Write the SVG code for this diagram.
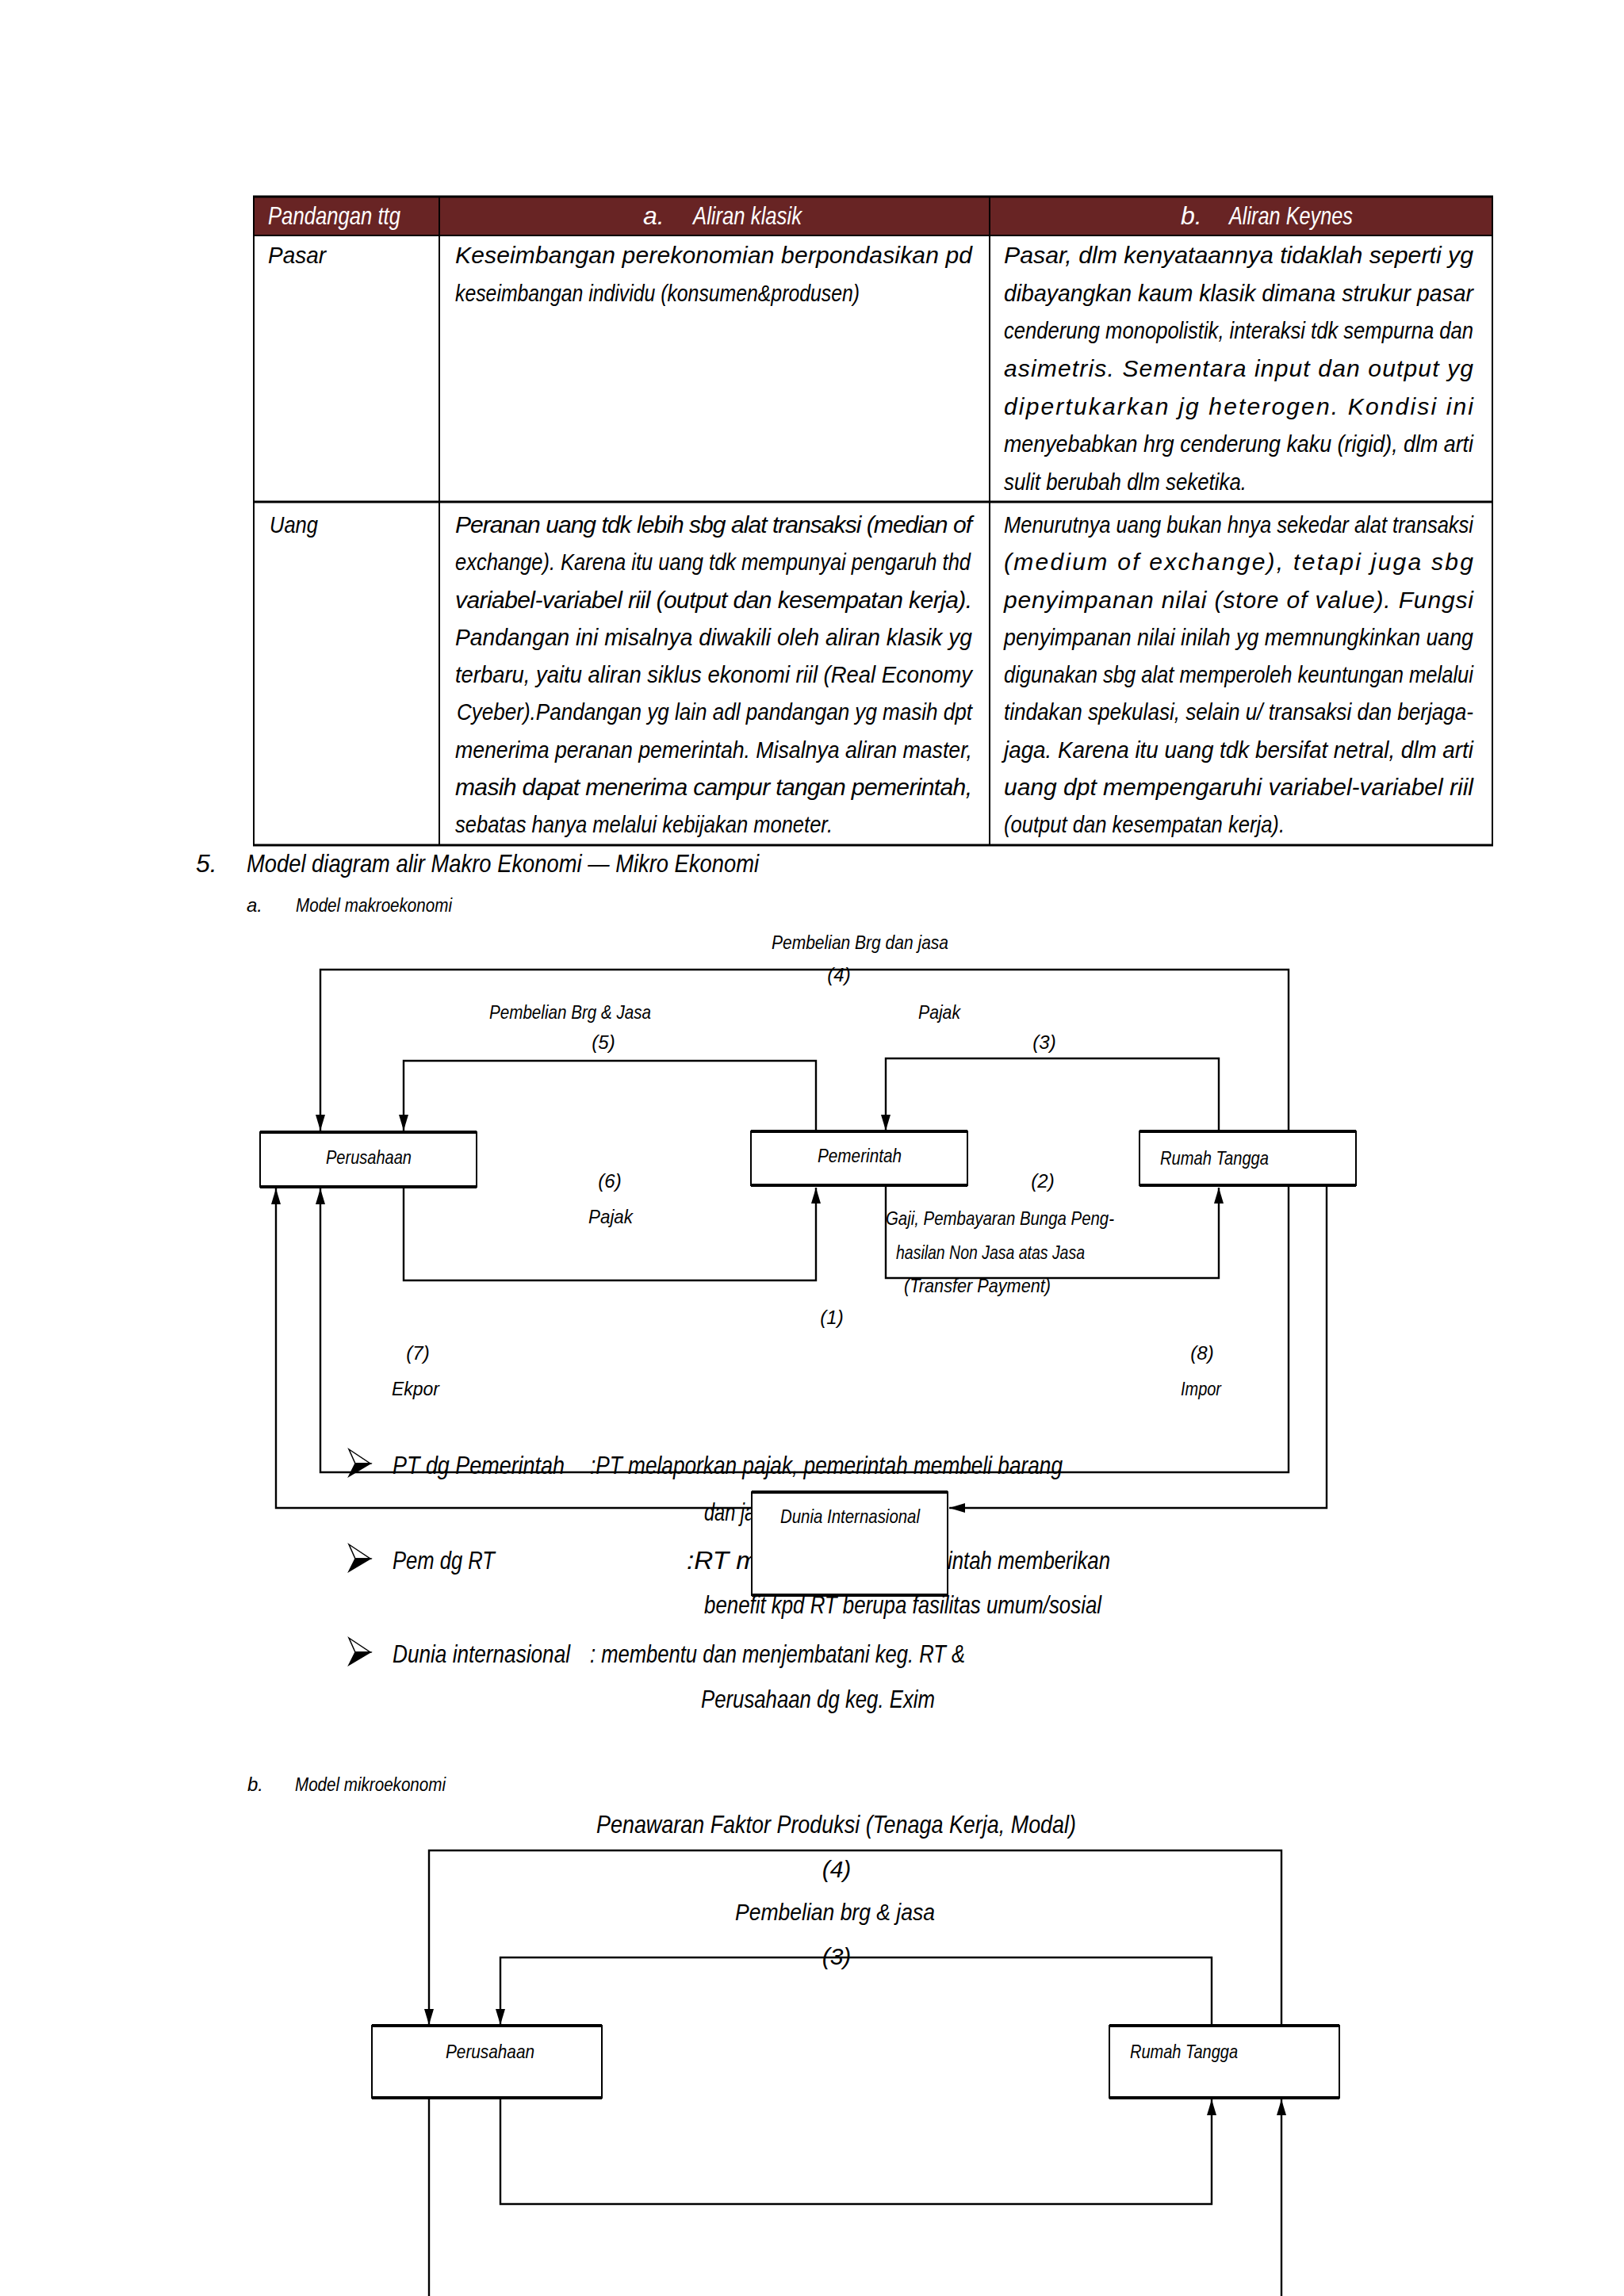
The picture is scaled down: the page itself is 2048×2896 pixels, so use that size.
<svg xmlns="http://www.w3.org/2000/svg" width="2048" height="2896" viewBox="0 0 2048 2896">
<style>
.t{font-family:"Liberation Sans",sans-serif;font-style:italic;fill:#000}
.tb{font-size:32px}
.tt{font-size:30px}
.th{font-size:32px;fill:#fff}
.d{font-size:24px}
.dm{font-size:30px}
.ln{stroke:#000;stroke-width:2.4;fill:none}
.bd{stroke:#000;fill:none}
.box{fill:#fff;stroke:#000;stroke-width:2}
.edge{stroke:#000;stroke-width:4;fill:none}
</style>
<defs>
<marker id="arr" markerUnits="userSpaceOnUse" markerWidth="22" markerHeight="14" refX="20" refY="6" orient="auto">
<path d="M0,0 L20,6 L0,12 z" fill="#000"/>
</marker>
</defs>
<rect width="2048" height="2896" fill="#fff"/>

<g id="table">
<rect x="320" y="249" width="1562" height="48" fill="#682424"/>
<path class="bd" stroke-width="3" d="M319,248 H1883 M319,633 H1883 M319,1066 H1883"/>
<path class="bd" stroke-width="2" d="M320,248 V1067 M554,248 V1067 M1248,248 V1067 M1882,248 V1067 M319,297 H1883"/>
<text class="t th" x="338" y="283" textLength="167" lengthAdjust="spacingAndGlyphs">Pandangan ttg</text>
<text class="t th" x="811" y="283">a.</text>
<text class="t th" x="874" y="283" textLength="137" lengthAdjust="spacingAndGlyphs">Aliran klasik</text>
<text class="t th" x="1489" y="283">b.</text>
<text class="t th" x="1550" y="283" textLength="156" lengthAdjust="spacingAndGlyphs">Aliran Keynes</text>

<text class="t tt" x="338" y="332" textLength="73" lengthAdjust="spacingAndGlyphs">Pasar</text>
<text class="t tt" x="574" y="332" textLength="652" lengthAdjust="spacing">Keseimbangan perekonomian berpondasikan pd</text>
<text class="t tt" x="574" y="380" textLength="510" lengthAdjust="spacingAndGlyphs">keseimbangan individu (konsumen&amp;produsen)</text>

<text class="t tt" x="1266" y="332" textLength="592" lengthAdjust="spacingAndGlyphs">Pasar, dlm kenyataannya tidaklah seperti yg</text>
<text class="t tt" x="1266" y="380" textLength="592" lengthAdjust="spacingAndGlyphs">dibayangkan kaum klasik dimana strukur pasar</text>
<text class="t tt" x="1266" y="427" textLength="592" lengthAdjust="spacingAndGlyphs">cenderung monopolistik, interaksi tdk sempurna dan</text>
<text class="t tt" x="1266" y="475" textLength="592" lengthAdjust="spacing">asimetris. Sementara input dan output yg</text>
<text class="t tt" x="1266" y="523" textLength="592" lengthAdjust="spacing">dipertukarkan jg heterogen. Kondisi ini</text>
<text class="t tt" x="1266" y="570" textLength="592" lengthAdjust="spacingAndGlyphs">menyebabkan hrg cenderung kaku (rigid), dlm arti</text>
<text class="t tt" x="1266" y="618" textLength="306" lengthAdjust="spacingAndGlyphs">sulit berubah dlm seketika.</text>

<text class="t tt" x="340" y="672" textLength="61" lengthAdjust="spacingAndGlyphs">Uang</text>
<text class="t tt" x="574" y="672" textLength="652" lengthAdjust="spacing">Peranan uang tdk lebih sbg alat transaksi (median of</text>
<text class="t tt" x="574" y="719" textLength="650" lengthAdjust="spacingAndGlyphs">exchange). Karena itu uang tdk mempunyai pengaruh thd</text>
<text class="t tt" x="574" y="767" textLength="652" lengthAdjust="spacing">variabel-variabel riil (output dan kesempatan kerja).</text>
<text class="t tt" x="574" y="814" textLength="652" lengthAdjust="spacingAndGlyphs">Pandangan ini misalnya diwakili oleh aliran klasik yg</text>
<text class="t tt" x="574" y="861" textLength="652" lengthAdjust="spacingAndGlyphs">terbaru, yaitu aliran siklus ekonomi riil (Real Economy</text>
<text class="t tt" x="576" y="908" textLength="650" lengthAdjust="spacingAndGlyphs">Cyeber).Pandangan yg lain adl pandangan yg masih dpt</text>
<text class="t tt" x="574" y="956" textLength="652" lengthAdjust="spacingAndGlyphs">menerima peranan pemerintah. Misalnya aliran master,</text>
<text class="t tt" x="574" y="1003" textLength="652" lengthAdjust="spacing">masih dapat menerima campur tangan pemerintah,</text>
<text class="t tt" x="574" y="1050" textLength="476" lengthAdjust="spacingAndGlyphs">sebatas hanya melalui kebijakan moneter.</text>

<text class="t tt" x="1266" y="672" textLength="592" lengthAdjust="spacingAndGlyphs">Menurutnya uang bukan hnya sekedar alat transaksi</text>
<text class="t tt" x="1266" y="719" textLength="592" lengthAdjust="spacing">(medium of exchange), tetapi juga sbg</text>
<text class="t tt" x="1266" y="767" textLength="592" lengthAdjust="spacing">penyimpanan nilai (store of value). Fungsi</text>
<text class="t tt" x="1266" y="814" textLength="592" lengthAdjust="spacingAndGlyphs">penyimpanan nilai inilah yg memnungkinkan uang</text>
<text class="t tt" x="1266" y="861" textLength="592" lengthAdjust="spacingAndGlyphs">digunakan sbg alat memperoleh keuntungan melalui</text>
<text class="t tt" x="1266" y="908" textLength="592" lengthAdjust="spacingAndGlyphs">tindakan spekulasi, selain u/ transaksi dan berjaga-</text>
<text class="t tt" x="1266" y="956" textLength="592" lengthAdjust="spacingAndGlyphs">jaga. Karena itu uang tdk bersifat netral, dlm arti</text>
<text class="t tt" x="1266" y="1003" textLength="592" lengthAdjust="spacing">uang dpt mempengaruhi variabel-variabel riil</text>
<text class="t tt" x="1266" y="1050" textLength="354" lengthAdjust="spacingAndGlyphs">(output dan kesempatan kerja).</text>
</g>

<g id="headings">
<text class="t tb" x="247" y="1100">5.</text>
<text class="t tb" x="311" y="1100" textLength="646" lengthAdjust="spacingAndGlyphs">Model diagram  alir Makro Ekonomi — Mikro Ekonomi</text>
<text class="t d" x="311" y="1150">a.</text>
<text class="t d" x="373" y="1150" textLength="197" lengthAdjust="spacingAndGlyphs">Model makroekonomi</text>
<text class="t d" x="312" y="2259">b.</text>
<text class="t d" x="372" y="2259" textLength="190" lengthAdjust="spacingAndGlyphs">Model mikroekonomi</text>
</g>

<g id="connectors">
<path class="ln" d="M1625,1428 V1223 H404 V1426" marker-end="url(#arr)"/>
<path class="ln" d="M1029,1428 V1338 H509 V1426" marker-end="url(#arr)"/>
<path class="ln" d="M1537,1428 V1335 H1117 V1426" marker-end="url(#arr)"/>
<path class="ln" d="M509,1497 V1615 H1029 V1498" marker-end="url(#arr)"/>
<path class="ln" d="M1117,1496 V1612 H1537 V1498" marker-end="url(#arr)"/>
<path class="ln" d="M1625,1496 V1857 H404 V1499" marker-end="url(#arr)"/>
<path class="ln" d="M1673,1496 V1902 H1197" marker-end="url(#arr)"/>
<path class="ln" d="M948,1902 H348 V1499" marker-end="url(#arr)"/>

<path class="ln" d="M1616,2555 V2334 H541 V2554" marker-end="url(#arr)"/>
<path class="ln" d="M1528,2555 V2469 H631 V2554" marker-end="url(#arr)"/>
<path class="ln" d="M631,2646 V2780 H1528 V2648" marker-end="url(#arr)"/>
<path class="ln" d="M541,2646 V2896"/>
<path class="ln" d="M1616,2896 V2648" marker-end="url(#arr)"/>
</g>

<g id="macro-labels">
<text class="t d" x="973" y="1197" textLength="223" lengthAdjust="spacingAndGlyphs">Pembelian Brg dan jasa</text>
<text class="t d" x="1058" y="1238" text-anchor="middle">(4)</text>
<text class="t d" x="617" y="1285" textLength="204" lengthAdjust="spacingAndGlyphs">Pembelian Brg &amp; Jasa</text>
<text class="t d" x="1158" y="1285" textLength="53" lengthAdjust="spacingAndGlyphs">Pajak</text>
<text class="t d" x="761" y="1323" text-anchor="middle">(5)</text>
<text class="t d" x="1317" y="1323" text-anchor="middle">(3)</text>
<text class="t d" x="769" y="1498" text-anchor="middle">(6)</text>
<text class="t d" x="742" y="1543" textLength="56" lengthAdjust="spacingAndGlyphs">Pajak</text>
<text class="t d" x="1315" y="1498" text-anchor="middle">(2)</text>
<text class="t d" x="1117" y="1545" textLength="288" lengthAdjust="spacingAndGlyphs">Gaji, Pembayaran Bunga Peng-</text>
<text class="t d" x="1130" y="1588" textLength="238" lengthAdjust="spacingAndGlyphs">hasilan Non Jasa atas Jasa</text>
<text class="t d" x="1140" y="1630" textLength="185" lengthAdjust="spacingAndGlyphs">(Transfer Payment)</text>
<text class="t d" x="1049" y="1670" text-anchor="middle">(1)</text>
<text class="t d" x="527" y="1715" text-anchor="middle">(7)</text>
<text class="t d" x="494" y="1760" textLength="60" lengthAdjust="spacingAndGlyphs">Ekpor</text>
<text class="t d" x="1516" y="1715" text-anchor="middle">(8)</text>
<text class="t d" x="1489" y="1760" textLength="51" lengthAdjust="spacingAndGlyphs">Impor</text>
</g>

<g id="perusahaan-makro">
<rect class="box" x="328" y="1428" width="273" height="69"/>
<path class="edge" d="M328,1428 H601 M328,1497 H601"/>
<text class="t d" x="411" y="1468" textLength="108" lengthAdjust="spacingAndGlyphs">Perusahaan</text>
</g>
<g id="pemerintah">
<rect class="box" x="947" y="1427" width="273" height="68"/>
<path class="edge" d="M947,1427 H1220 M947,1495 H1220"/>
<text class="t d" x="1031" y="1466" textLength="106" lengthAdjust="spacingAndGlyphs">Pemerintah</text>
</g>
<g id="rumah-tangga-makro">
<rect class="box" x="1437" y="1427" width="273" height="68"/>
<path class="edge" d="M1437,1427 H1710 M1437,1495 H1710"/>
<text class="t d" x="1463" y="1469" textLength="137" lengthAdjust="spacingAndGlyphs">Rumah Tangga</text>
</g>

<g id="bullets">
<path d="M440,1828 L467,1846 L448,1846 Z" fill="#fff" stroke="#000" stroke-width="1.5"/>
<path d="M448,1846 L467,1846 L440,1862 Z" fill="#000" stroke="#000" stroke-width="1.5"/>
<text class="t tb" x="495" y="1859" textLength="217" lengthAdjust="spacingAndGlyphs">PT dg Pemerintah</text>
<text class="t tb" x="744" y="1859" textLength="596" lengthAdjust="spacingAndGlyphs">:PT melaporkan pajak, pemerintah membeli barang</text>
<text class="t tb" x="888" y="1918" textLength="64" lengthAdjust="spacingAndGlyphs">dan ja</text>

<path d="M440,1948 L467,1966 L448,1966 Z" fill="#fff" stroke="#000" stroke-width="1.5"/>
<path d="M448,1966 L467,1966 L440,1982 Z" fill="#000" stroke="#000" stroke-width="1.5"/>
<text class="t tb" x="495" y="1979" textLength="129" lengthAdjust="spacingAndGlyphs">Pem dg RT</text>
<text class="t tb" x="866" y="1979" textLength="90" lengthAdjust="spacingAndGlyphs">:RT m</text>
<text class="t tb" x="1195" y="1979" textLength="205" lengthAdjust="spacingAndGlyphs">intah memberikan</text>
<text class="t tb" x="888" y="2035" textLength="501" lengthAdjust="spacingAndGlyphs">benefit kpd RT  berupa fasilitas umum/sosial</text>

<path d="M440,2066 L467,2084 L448,2084 Z" fill="#fff" stroke="#000" stroke-width="1.5"/>
<path d="M448,2084 L467,2084 L440,2100 Z" fill="#000" stroke="#000" stroke-width="1.5"/>
<text class="t tb" x="495" y="2097" textLength="224" lengthAdjust="spacingAndGlyphs">Dunia internasional</text>
<text class="t tb" x="744" y="2097" textLength="473" lengthAdjust="spacingAndGlyphs">: membentu dan menjembatani keg. RT &amp;</text>
<text class="t tb" x="884" y="2154" textLength="295" lengthAdjust="spacingAndGlyphs">Perusahaan dg keg. Exim</text>
</g>

<g id="dunia-internasional">
<rect class="box" x="948" y="1882" width="247" height="130"/>
<path class="edge" d="M948,1882 H1195 M948,2012 H1195"/>
<text class="t d" x="984" y="1921" textLength="176" lengthAdjust="spacingAndGlyphs">Dunia Internasional</text>
</g>

<g id="micro-labels">
<text class="t tb" x="752" y="2312" textLength="605" lengthAdjust="spacingAndGlyphs">Penawaran Faktor Produksi (Tenaga Kerja, Modal)</text>
<text class="t dm" x="1055" y="2368" text-anchor="middle">(4)</text>
<text class="t dm" x="927" y="2422" textLength="252" lengthAdjust="spacingAndGlyphs">Pembelian brg &amp; jasa</text>
<text class="t dm" x="1055" y="2478" text-anchor="middle">(3)</text>
</g>

<g id="perusahaan-mikro">
<rect class="box" x="469" y="2555" width="290" height="91"/>
<path class="edge" d="M469,2555 H759 M469,2646 H759"/>
<text class="t d" x="562" y="2596" textLength="112" lengthAdjust="spacingAndGlyphs">Perusahaan</text>
</g>
<g id="rumah-tangga-mikro">
<rect class="box" x="1399" y="2555" width="290" height="91"/>
<path class="edge" d="M1399,2555 H1689 M1399,2646 H1689"/>
<text class="t d" x="1425" y="2596" textLength="136" lengthAdjust="spacingAndGlyphs">Rumah Tangga</text>
</g>
</svg>
